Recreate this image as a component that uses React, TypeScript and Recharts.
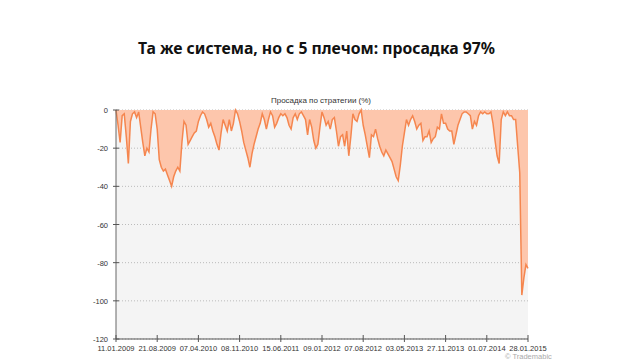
import React from "react";
import { AreaChart, Area, XAxis, YAxis, CartesianGrid } from "recharts";

const dateLabels = [
  "11.01.2009", "21.08.2009", "07.04.2010", "08.11.2010", "15.06.2011", "09.01.2012",
  "07.08.2012", "03.05.2013", "27.11.2013", "01.07.2014", "28.01.2015",
];

const xTicks = [0, 20, 40, 60, 80, 100, 120, 140, 160, 180, 200];
const yTicks = [0, -20, -40, -60, -80, -100, -120];

// Drawdown (%) sampled evenly across the trading period
const drawdown = [
  0, -8, -17, -3, -2, -14, -28, -6, -2, -1, -4, -1, -9, -17, -24, -20, -22, -10, -1, -2,
  -10, -26, -30, -32, -31, -34, -37, -40, -35, -32, -30, -32, -17, -6, -8, -18, -16, -14, -12, -11,
  -6, -3, -1, -2, -5, -9, -7, -11, -14, -18, -21, -12, -5, -8, -11, -5, -11, -7, 0, -2,
  -6, -11, -17, -21, -25, -30, -23, -18, -14, -10, -7, -2, -5, -10, -5, -1, -3, -9, -7, -4,
  -2, -3, -2, -4, -8, -10, -4, -2, -5, -2, -1, -3, -5, -13, -5, -9, -16, -20, -18, -9,
  -1, -4, -8, -6, -10, -5, -4, -11, -19, -14, -13, -19, -11, -24, -14, -2, -5, -6, -2, 0,
  -8, -13, -19, -25, -13, -14, -10, -15, -19, -22, -24, -21, -23, -25, -27, -31, -35, -37, -29, -19,
  -12, -5, -8, -5, -3, -6, -10, -8, -7, -16, -14, -14, -11, -17, -15, -14, -9, -10, -2, -7,
  -7, -10, -11, -11, -18, -13, -8, -5, -2, -1, -1, -2, -3, -10, -6, -8, -3, -1, -2, -1,
  -2, -2, -1, -7, -16, -24, -28, -5, -1, -3, -1, -3, -3, -5, -5, -19, -33, -97, -88, -81,
  -83,
];

const chartData = drawdown.map((v, i) => ({ i, v }));

const XTick = (props: any) => {
  const { x, y, payload } = props;
  const label = dateLabels[xTicks.indexOf(payload.value)] ?? "";
  return (
    <g>
      <line x1={x} x2={x} y1={y - 4} y2={y + 3} stroke="#555" strokeWidth={1} />
      <text x={x} y={y + 12} textAnchor="middle" fontSize={7.5} fill="#333"
        fontFamily="Liberation Sans, Arial, sans-serif">{label}</text>
    </g>
  );
};

const YTick = (props: any) => {
  const { x, y, payload } = props;
  return (
    <g>
      <line x1={x - 3} x2={x + 3} y1={y} y2={y} stroke="#555" strokeWidth={1} />
      <text x={x - 8} y={y + 3} textAnchor="end" fontSize={7.5} fill="#333"
        fontFamily="Liberation Sans, Arial, sans-serif">{payload.value}</text>
    </g>
  );
};

export default function App() {
  return (
    <div style={{ position: "absolute", left: 0, top: 0, width: 640, height: 360, background: "#fff" }}>
      <AreaChart
        width={640}
        height={360}
        data={chartData}
        margin={{ top: 110, right: 112, bottom: 0, left: 86 }}
      >
        <CartesianGrid vertical={false} stroke="#bbb" strokeDasharray="1 2" fill="#f4f4f4" />
        <XAxis
          dataKey="i"
          type="number"
          domain={[0, 200]}
          ticks={xTicks}
          interval={0}
          height={21}
          tickSize={0}
          tickMargin={0}
          tickLine={false}
          axisLine={{ stroke: "#555" }}
          tick={<XTick />}
        />
        <YAxis
          type="number"
          domain={[-120, 0]}
          ticks={yTicks}
          interval={0}
          width={30}
          tickSize={0}
          tickMargin={0}
          tickLine={false}
          axisLine={{ stroke: "#666" }}
          tick={<YTick />}
        />
        <Area
          type="linear"
          dataKey="v"
          baseValue={0}
          stroke="#f5864f"
          strokeWidth={1.5}
          fill="#fdc6ac"
          fillOpacity={1}
          isAnimationActive={false}
          dot={false}
          activeDot={false}
        />
      </AreaChart>
      <svg width={640} height={360} style={{ position: "absolute", left: 0, top: 0, pointerEvents: "none" }}>
        <text x={138} y={54} fontSize={16.5} fontWeight="bold" fill="#111"
          fontFamily="Noto Sans, Open Sans, sans-serif" textLength={357} lengthAdjust="spacingAndGlyphs">
          Та же система, но с 5 плечом: просадка 97%
        </text>
        <text x={321} y={103} textAnchor="middle" fontSize={8} fill="#333"
          fontFamily="Liberation Sans, Arial, sans-serif">Просадка по стратегии (%)</text>
        <text x={505} y={359} fontSize={7.5} fill="#aaa"
          fontFamily="Liberation Sans, Arial, sans-serif">© Trademabic</text>
      </svg>
    </div>
  );
}
